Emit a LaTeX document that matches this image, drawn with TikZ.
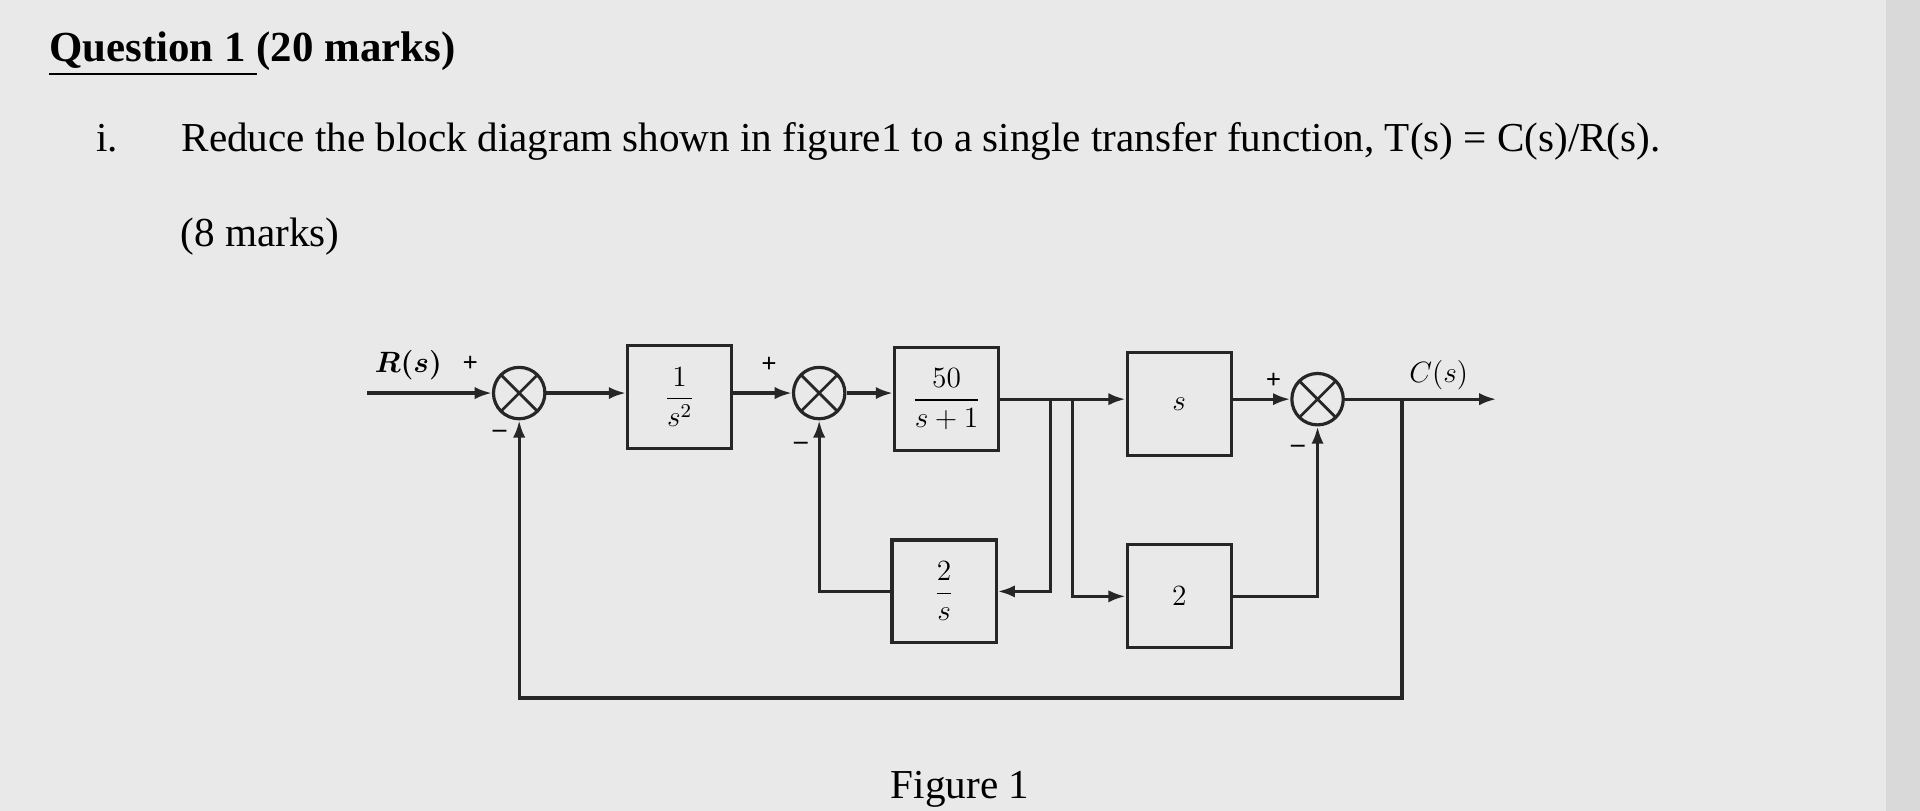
\documentclass[tikz,border=0pt]{standalone}
\usepackage{amsmath,amssymb}
\usepackage{fontspec}
\setmainfont{Liberation Serif}
\usetikzlibrary{arrows.meta}
\begin{document}
\begin{tikzpicture}[x=0.5pt,y=-0.5pt,
  ln/.style={line width=1.3pt,draw=black!85},
  ar/.style={ln,-{Latex[length=7pt,width=5pt]}},
  blk/.style={draw=black!85,line width=1.3pt,minimum width=42.5pt,minimum height=42pt,inner sep=0pt,font=\fontsize{12}{14}\selectfont},
  sumj/.style={circle,draw=black!85,line width=1.3pt,minimum size=21pt,inner sep=0pt,
    path picture={\draw[line width=1.1pt] (path picture bounding box.north west)--(path picture bounding box.south east) (path picture bounding box.north east)--(path picture bounding box.south west);}},
  sg/.style={font=\fontsize{11}{12}\selectfont\bfseries,inner sep=1pt},
  txt/.style={font=\fontsize{16.8}{19}\selectfont,inner sep=0pt,anchor=base west}]
\fill[gray!17] (0,0) rectangle (1568,662);
\fill[gray!30] (1540,0) rectangle (1568,662);
\useasboundingbox (0,0) rectangle (1568,662);
% texts
\node[txt,font=\fontsize{17.5}{19}\selectfont\bfseries] (t1) at (40,50) {\underline{Question 1\ }(20 marks)};
\node[txt] (t2) at (78,124) {i.};
\node[txt] (t3) at (148,124) {Reduce the block diagram shown in figure1 to a single transfer function, T(s) = C(s)/R(s).};
\node[txt] (t4) at (147,201) {(8 marks)};
\node[txt,anchor=base] (fig) at (784,652) {Figure 1};
% diagram
\coordinate (rin) at (300,321);
\node[sumj] (s1) at (424,321) {};
\node[blk] (b1) at (555,324) {$\dfrac{1}{s^2}$};
\node[sumj] (s2) at (669,321) {};
\node[blk] (b2) at (773,326) {$\dfrac{50}{s+1}$};
\node[blk] (b3) at (963,330) {$s$};
\node[sumj] (s3) at (1076,326) {};
\node[blk] (b4) at (771,483) {$\dfrac{2}{s}$};
\node[blk] (b5) at (963,487) {$2$};
\coordinate (out) at (1222,326);
\coordinate (p1) at (858,326);
\coordinate (p2) at (876,326);
\coordinate (p3) at (1145,326);
\node[font=\fontsize{12}{14}\selectfont,anchor=east] (rl) at (368,298) {$\boldsymbol{R(s)}$};
\node[font=\fontsize{12}{14}\selectfont] (cl) at (1175,306) {$C(s)$};
\node[sg] at (384,297) {+};
\node[sg] at (408,354) {--};
\node[sg] at (628,298) {+};
\node[sg] at (654,364) {--};
\node[sg] at (1040,311) {+};
\node[sg] at (1060,367) {--};
\draw[ar] (rin) -- (s1.west);
\draw[ar] (s1.east) -- (b1.west |- s1.east);
\draw[ar] (b1.east |- s2.west) -- (s2.west);
\draw[ar] (s2.east) -- (b2.west |- s2.east);
\draw[ar] (b2.east) -- (b3.west |- b2.east);
\draw[ar] (b3.east |- s3.west) -- (s3.west);
\draw[ar] (s3.east) -- (out);
\draw[ar] (p1) |- (b4.east);
\draw[ar] (p2) |- (b5.west);
\draw[ar] (b4.west) -| (s2.south);
\draw[ar] (b5.east) -| (s3.south);
\draw[ar] (p3) -- (1145,570) -| (s1.south);
\end{tikzpicture}
\end{document}
